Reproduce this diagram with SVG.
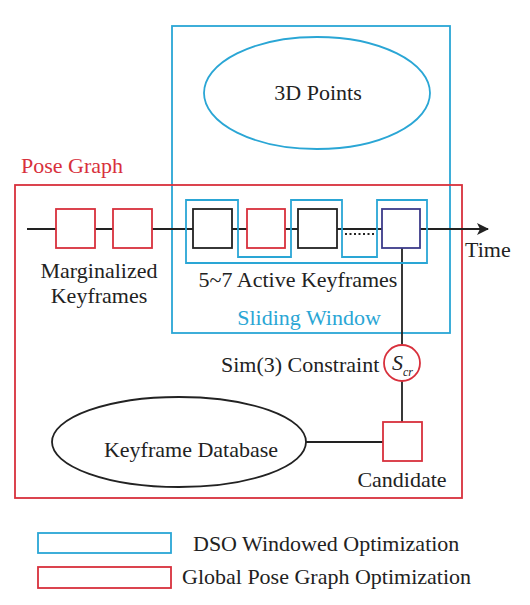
<svg xmlns="http://www.w3.org/2000/svg" width="530" height="605" viewBox="0 0 530 605">
<defs>
<style>
text{font-family:"Liberation Serif","Times New Roman",serif;font-size:22px;fill:#222}
.cy{fill:none;stroke:#2aa6d5;stroke-width:1.8}
.rd{fill:none;stroke:#d8303c;stroke-width:1.8}
.bk{fill:none;stroke:#222;stroke-width:1.8}
.kf{fill:#fff;stroke-width:1.8}
.ln{stroke:#222;stroke-width:1.8;fill:none}
</style>
<marker id="ah" viewBox="0 0 12 12" refX="11" refY="6" markerWidth="12" markerHeight="12" markerUnits="userSpaceOnUse" orient="auto">
<path d="M0,0 L12,6 L0,12 L3,6 Z" fill="#222"/>
</marker>
</defs>
<rect width="530" height="605" fill="#fff"/>

<g id="sliding-window">
<rect class="cy" x="172" y="26" width="278" height="307"/>
<text x="309" y="325" text-anchor="middle" style="fill:#2aa6d5">Sliding Window</text>
</g>
<g id="points3d">
<ellipse class="cy" cx="317" cy="93" rx="113" ry="56"/>
<text x="318" y="100" text-anchor="middle">3D Points</text>
</g>
<g id="pose-graph">
<rect class="rd" x="15" y="185" width="447" height="313"/>
<text x="21" y="173" style="fill:#d8303c">Pose Graph</text>
</g>

<g id="connectors">
<line class="ln" x1="27" y1="229" x2="488" y2="229" marker-end="url(#ah)"/>
<line x1="345" y1="234" x2="376" y2="234" stroke="#222" stroke-width="1.8" stroke-dasharray="2,2.5"/>
<line class="ln" x1="402" y1="248" x2="402" y2="345"/>
<line class="ln" x1="402" y1="381" x2="402" y2="422"/>
<line class="ln" x1="306" y1="442" x2="383" y2="442"/>
</g>

<g id="active-window">
<path class="cy" d="M186,200 H238 V257 H291 V200 H342 V257 H377 V200 H427 V263 H186 Z"/>
<text x="298" y="287" text-anchor="middle">5~7 Active Keyframes</text>
</g>
<g id="kf-m1"><rect class="kf" x="56" y="209" width="39" height="39" stroke="#d8303c"/></g>
<g id="kf-m2"><rect class="kf" x="113" y="209" width="39" height="39" stroke="#d8303c"/></g>
<g id="marg-label">
<text x="99" y="278" text-anchor="middle">Marginalized</text>
<text x="99" y="303" text-anchor="middle">Keyframes</text>
</g>
<g id="kf-a1"><rect class="kf" x="193" y="209" width="39" height="39" stroke="#222"/></g>
<g id="kf-a2"><rect class="kf" x="247" y="209" width="38" height="39" stroke="#d8303c"/></g>
<g id="kf-a3"><rect class="kf" x="298" y="209" width="39" height="39" stroke="#222"/></g>
<g id="kf-a4"><rect class="kf" x="382" y="209" width="38" height="39" stroke="#3c3b8a"/></g>
<g id="time-label"><text x="465" y="257">Time</text></g>

<g id="scr">
<circle cx="402" cy="363" r="18" fill="#fff" stroke="#d8303c" stroke-width="1.8"/>
<text x="392" y="370" font-style="italic">S</text>
<text x="403" y="376" font-style="italic" style="font-size:12px">cr</text>
<text x="221" y="372">Sim(3) Constraint</text>
</g>
<g id="database">
<ellipse class="bk" cx="179" cy="442" rx="127" ry="45"/>
<text x="191" y="457" text-anchor="middle">Keyframe Database</text>
</g>
<g id="candidate">
<rect class="kf" x="383" y="422" width="39" height="39" stroke="#d8303c"/>
<text x="402" y="487" text-anchor="middle">Candidate</text>
</g>

<g id="legend">
<rect class="cy" x="38" y="533" width="133" height="20"/>
<text x="193" y="551">DSO Windowed Optimization</text>
<rect class="rd" x="38" y="567" width="133" height="21"/>
<text x="182" y="584">Global Pose Graph Optimization</text>
</g>
</svg>
